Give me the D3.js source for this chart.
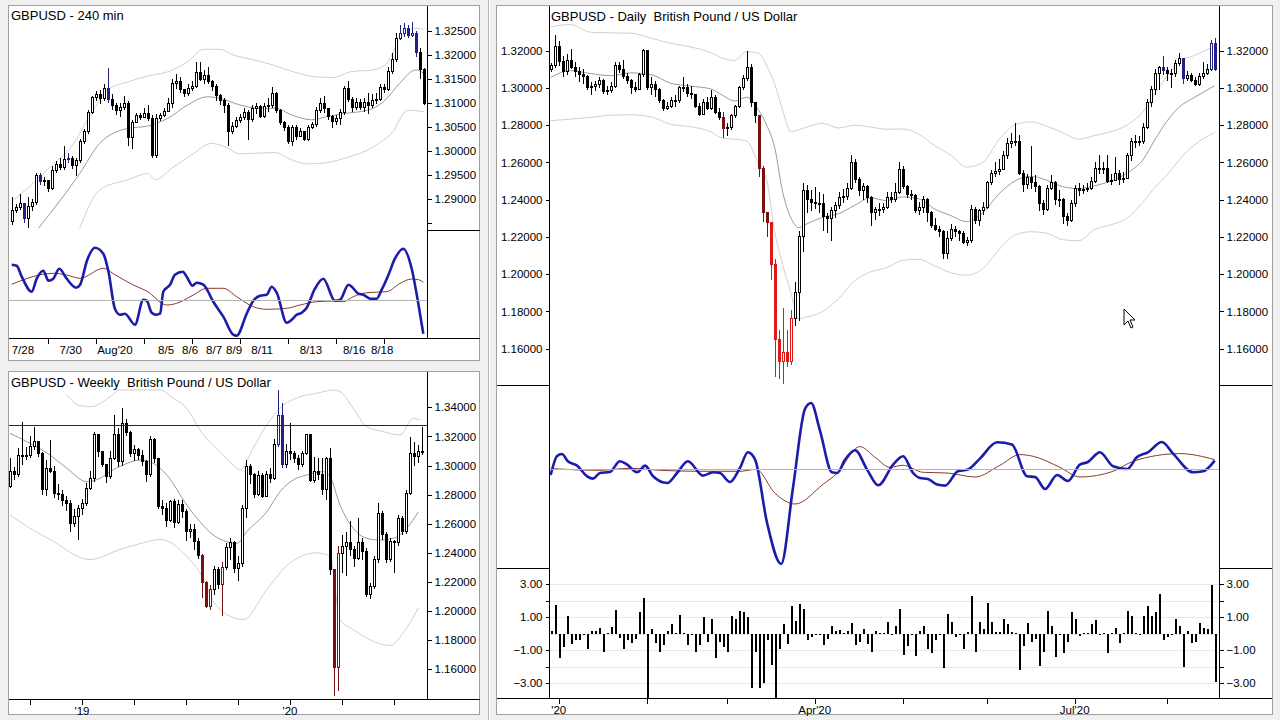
<!DOCTYPE html>
<html>
<head>
<meta charset="utf-8">
<script src="https://cdn.jsdelivr.net/npm/d3@7"></script>
<style>
  html, body { margin: 0; padding: 0; background: #f0f0f0; }
  svg { display: block; font-family: "Liberation Sans", Arial, sans-serif; }
  text { white-space: pre; }
</style>
</head>
<body>
<svg id="chart" width="1280" height="720"></svg>
<script>
// ---------- 240 min ----------
var h4Open0 = 1.2853;
var h4Close = [
  1.2877,1.2882,1.2890,1.2860,1.2885,1.2893,1.2950,1.2936,1.2938,1.2922,
  1.2960,1.2972,1.2966,1.2983,1.2985,1.2970,1.2980,1.3020,1.3040,1.3080,
  1.3112,1.3118,1.3110,1.3130,1.3107,1.3095,1.3085,1.3090,1.3100,1.3028,
  1.3060,1.3073,1.3070,1.3078,1.3068,1.2990,1.3068,1.3075,1.3083,1.3100,
  1.3140,1.3145,1.3128,1.3120,1.3130,1.3135,1.3163,1.3150,1.3158,1.3145,
  1.3135,1.3115,1.3105,1.3095,1.3040,1.3052,1.3063,1.3070,1.3080,1.3065,
  1.3088,1.3092,1.3072,1.3092,1.3095,1.3120,1.3085,1.3060,1.3050,1.3020,
  1.3050,1.3030,1.3040,1.3025,1.3048,1.3055,1.3085,1.3100,1.3088,1.3072,
  1.3062,1.3068,1.3080,1.3130,1.3108,1.3090,1.3102,1.3090,1.3102,1.3095,
  1.3105,1.3108,1.3133,1.3128,1.3165,1.3190,1.3235,1.3245,1.3255,1.3240,
  1.3245,1.3205,1.3170,1.3100
];
var h4High = [
  1.2905,1.2890,1.2910,1.2892,1.2905,1.2900,1.2955,1.2955,1.2945,1.2940,
  1.2968,1.2980,1.2985,1.3010,1.2995,1.2990,1.2985,1.3025,1.3045,1.3085,
  1.3115,1.3125,1.3128,1.3140,1.3172,1.3118,1.3100,1.3100,1.3115,1.3105,
  1.3065,1.3080,1.3080,1.3090,1.3095,1.3075,1.3078,1.3080,1.3090,1.3110,
  1.3150,1.3160,1.3155,1.3130,1.3140,1.3145,1.3185,1.3185,1.3168,1.3175,
  1.3148,1.3140,1.3118,1.3110,1.3100,1.3060,1.3070,1.3078,1.3090,1.3085,
  1.3095,1.3100,1.3095,1.3100,1.3110,1.3133,1.3122,1.3088,1.3063,1.3055,
  1.3055,1.3055,1.3048,1.3042,1.3055,1.3060,1.3092,1.3110,1.3115,1.3090,
  1.3075,1.3075,1.3088,1.3135,1.3145,1.3112,1.3110,1.3108,1.3110,1.3120,
  1.3118,1.3120,1.3140,1.3140,1.3175,1.3205,1.3245,1.3262,1.3266,1.3262,
  1.3268,1.3250,1.3215,1.3172
];
var h4Low = [
  1.2845,1.2870,1.2878,1.2850,1.2839,1.2875,1.2888,1.2930,1.2928,1.2915,
  1.2918,1.2955,1.2960,1.2960,1.2975,1.2962,1.2947,1.2975,1.3015,1.3035,
  1.3078,1.3105,1.3098,1.3105,1.3100,1.3085,1.3075,1.3070,1.3085,1.3010,
  1.3005,1.3060,1.3065,1.3068,1.3062,1.2985,1.2985,1.3062,1.3070,1.3082,
  1.3090,1.3130,1.3120,1.3112,1.3115,1.3125,1.3132,1.3145,1.3140,1.3140,
  1.3125,1.3105,1.3095,1.3080,1.3010,1.3035,1.3048,1.3058,1.3065,1.3023,
  1.3060,1.3078,1.3068,1.3068,1.3082,1.3090,1.3080,1.3055,1.3042,1.3015,
  1.3010,1.3022,1.3030,1.3020,1.3020,1.3045,1.3050,1.3080,1.3080,1.3065,
  1.3048,1.3055,1.3055,1.3075,1.3102,1.3082,1.3085,1.3085,1.3082,1.3078,
  1.3090,1.3098,1.3105,1.3120,1.3125,1.3160,1.3185,1.3232,1.3238,1.3235,
  1.3238,1.3195,1.3150,1.3095
];
var h4Up = [3, 7, 14, 24, 97, 98, 99, 100, 101];
var h4Upper = [[0,1.2895],[5,1.2930],[10,1.2970],[15,1.3010],[20,1.3080],[24,1.3127],[29,1.3144],
  [34,1.3156],[39,1.3165],[44,1.3186],[48,1.3212],[52,1.3212],[55.4,1.3200],[60.4,1.3190],
  [65.4,1.3179],[70.4,1.3165],[75.4,1.3155],[80.4,1.3153],[84.6,1.3165],[90.4,1.3169],
  [93.8,1.3183],[97.1,1.3235],[101.3,1.3256],[103,1.3253]];
var h4Mid = [[6.7,1.2839],[17,1.2953],[22,1.3016],[29,1.3047],[34,1.3052],[39,1.3068],[44,1.3096],
  [49,1.3113],[52,1.3110],[57,1.3096],[62,1.3089],[66,1.3089],[70,1.3075],[75,1.3065],
  [79,1.3072],[83,1.3078],[89,1.3085],[93,1.3103],[97,1.3141],[101,1.3169],[103,1.3162]];
var h4Lower = [[17,1.2839],[22,1.2919],[29,1.2940],[34,1.2953],[36,1.2940],[40,1.2964],[45,1.2992],
  [50,1.3016],[54,1.3006],[57,1.2994],[66,1.2997],[69,1.2985],[74,1.2973],[79,1.2976],
  [84,1.2987],[89,1.3002],[92,1.3017],[95,1.3037],[99,1.3085],[103,1.3082]];
var h4Osc = [[0,3.6],[1.25,3.5],[2.5,2.4],[5,0.9],[6.25,2.2],[7.9,3.0],[9.2,2.0],[10.4,2.2],
  [11.9,3.2],[13.75,2.2],[16.1,1.3],[17.1,1.6],[18.9,4.1],[20.8,5.3],[22.9,4.7],[24.2,2.9],
  [25.8,-0.8],[27.1,-1.4],[28.3,-1.3],[30.8,-2.4],[32.9,0.1],[33.75,0],[35,-1.2],[36.1,-1.4],
  [37.1,-1.3],[37.9,0.9],[39.6,1.6],[40.8,2.6],[42.75,2.9],[43.9,2.3],[45.2,1.5],[46.25,1.8],
  [47.9,1.6],[50.4,-0.1],[52.9,-1.6],[55.4,-3.4],[56.25,-3.5],[58.75,-1.3],[60.4,0],[62.1,0.5],
  [63.75,0.6],[65,1.4],[66.25,0.8],[68.75,-2.2],[70,-1.9],[71.25,-1.4],[72.5,-1.2],[73.75,-0.7],
  [75.8,1.2],[77.9,2.2],[80.8,0],[82.1,0.1],[84.2,1.6],[85,1.4],[86.7,0.7],[87.9,0.6],
  [89.6,0.2],[91.25,0.2],[92.5,1.1],[94.2,2.6],[95.8,4.2],[97.9,5.2],[100,3.2],[101.7,-0.4],
  [102.9,-3.3]];
var h4Signal = [[0,1.64],[10.4,2.74],[13.75,2.57],[17.1,2.24],[22.9,3.24],[25.8,2.6],[30.4,1.57],
  [33.75,0.97],[38.75,-0.43],[41.25,-0.26],[45.4,0.57],[48.75,1.24],[52.9,1.24],[56.25,0.4],
  [60.4,-0.6],[63.75,-0.86],[68.75,-0.76],[72.1,-0.43],[76.25,-0.1],[80.4,-0.03],[82.9,-0.1],
  [85.4,0.4],[88.75,0.8],[93.75,0.9],[97.1,1.74],[100,2.17],[101.7,2.1],[102.9,1.84]];
var h4Prices = [1.290, 1.295, 1.300, 1.305, 1.310, 1.315, 1.320, 1.325];
var h4TickIdx = [9, 21, 33, 45, 57, 69, 81, 93];
var h4Labels = ["7/28", "7/30", "Aug'20", "8/5", "8/6", "8/7", "8/9", "8/11", "8/13", "8/16", "8/18"];
var h4LabelIdx = [2.8, 14.75, 25.8, 38.6, 44.6, 50.6, 55.6, 62.6, 74.8, 85.6, 92.6];

// ---------- weekly ----------
var wkOpen0 = 1.2855;
var wkClose = [
  1.2958,1.2935,1.3072,1.3061,1.3072,1.3130,1.3164,1.3084,1.2832,1.2981,
  1.2960,1.2809,1.2800,1.2763,1.2740,1.2600,1.2649,1.2706,1.2740,1.2843,
  1.2912,1.3210,1.3095,1.3004,1.2924,1.3050,1.3210,1.3030,1.3290,1.3230,
  1.3084,1.3110,1.3070,1.3030,1.2935,1.3180,1.3050,1.2717,1.2706,1.2620,
  1.2750,1.2610,1.2730,1.2683,1.2546,1.2560,1.2480,1.2380,1.2194,1.2034,
  1.2148,1.2285,1.2183,1.2297,1.2440,1.2470,1.2290,1.2330,1.2706,1.2993,
  1.2940,1.2800,1.2930,1.2790,1.2940,1.2912,1.3141,1.3347,1.3004,1.3095,
  1.3084,1.3050,1.3004,1.3084,1.3210,1.2900,1.2960,1.2940,1.2832,1.3050,
  1.2286,1.1610,1.2397,1.2446,1.2470,1.2420,1.2360,1.2470,1.2411,1.2114,
  1.2171,1.2354,1.2672,1.2523,1.2354,1.2480,1.2470,1.2637,1.2546,1.2809,
  1.3084,1.3061,1.3095,1.3090
];
var wkHigh = [
  1.3050,1.2990,1.3118,1.3302,1.3130,1.3200,1.3267,1.3164,1.3090,1.3040,
  1.3176,1.3000,1.2870,1.2830,1.2790,1.2760,1.2700,1.2730,1.2770,1.2880,
  1.2960,1.3233,1.3215,1.3100,1.3010,1.3100,1.3347,1.3256,1.3393,1.3320,
  1.3240,1.3140,1.3120,1.3110,1.3040,1.3200,1.3190,1.3030,1.2760,1.2740,
  1.2760,1.2770,1.2760,1.2760,1.2700,1.2600,1.2600,1.2500,1.2390,1.2210,
  1.2180,1.2310,1.2300,1.2340,1.2470,1.2500,1.2480,1.2380,1.2730,1.3040,
  1.3010,1.2950,1.2960,1.2950,1.2960,1.2980,1.3180,1.3519,1.3427,1.3150,
  1.3290,1.3100,1.3070,1.3100,1.3215,1.3210,1.3060,1.3050,1.3050,1.3060,
  1.3120,1.2290,1.2450,1.2520,1.2540,1.2620,1.2450,1.2640,1.2500,1.2430,
  1.2190,1.2380,1.2740,1.2690,1.2540,1.2500,1.2490,1.2660,1.2650,1.2830,
  1.3198,1.3160,1.3140,1.3267
];
var wkLow = [
  1.2843,1.2900,1.2920,1.3004,1.3040,1.3050,1.3110,1.3061,1.2800,1.2790,
  1.2950,1.2780,1.2760,1.2720,1.2690,1.2540,1.2580,1.2490,1.2660,1.2720,
  1.2830,1.2890,1.3060,1.2990,1.2880,1.2910,1.3040,1.2990,1.3000,1.3200,
  1.3060,1.3030,1.3040,1.3000,1.2890,1.2920,1.3020,1.2700,1.2660,1.2580,
  1.2610,1.2570,1.2600,1.2640,1.2480,1.2500,1.2420,1.2360,1.2090,1.2020,
  1.2010,1.2110,1.2150,1.1965,1.2280,1.2350,1.2260,1.2210,1.2300,1.2640,
  1.2870,1.2780,1.2790,1.2780,1.2800,1.2880,1.2900,1.3130,1.2980,1.2980,
  1.3040,1.3020,1.2970,1.2990,1.3070,1.2889,1.2880,1.2900,1.2800,1.2760,
  1.2250,1.1415,1.1449,1.2260,1.2240,1.2380,1.2300,1.2350,1.2350,1.2100,
  1.2080,1.2150,1.2330,1.2490,1.2330,1.2340,1.2260,1.2450,1.2520,1.2530,
  1.2800,1.3000,1.3020,1.3070
];
var wkUp = [67, 68];
var wkDown = [48, 49, 50, 53, 81, 82];
var wkUpper = [[14.2,1.3485],[17.5,1.3411],[20.4,1.3405],[25,1.3473],[27.5,1.3519],[37.5,1.3519],
  [40.8,1.3462],[44.2,1.3393],[47.5,1.3244],[52.5,1.3095],[55.8,1.3004],[57.5,1.2969],
  [60.8,1.3118],[64.2,1.3279],[67.5,1.3393],[72.5,1.3473],[76.7,1.3496],[80.8,1.3519],
  [82.5,1.3508],[85.8,1.3393],[89.2,1.3267],[93.3,1.3233],[97.5,1.3210],[100.8,1.3324],[102.5,1.3313]];
var wkMid = [[0,1.3221],[4.2,1.3164],[10,1.3072],[14.2,1.2981],[19.2,1.2889],[22.5,1.2912],[25,1.2958],
  [28.3,1.3004],[32.5,1.3038],[35.8,1.3015],[39.2,1.2935],[44.2,1.2729],[47.5,1.2614],
  [50.8,1.2523],[54.2,1.2477],[56.7,1.2465],[59.2,1.2546],[64.2,1.2683],[67.5,1.2820],
  [70.8,1.2901],[74.2,1.2935],[78.3,1.2958],[80,1.2924],[82.5,1.2729],[85.8,1.2569],
  [89.2,1.2500],[92.5,1.2488],[95.8,1.2500],[99.2,1.2569],[102.1,1.2683]];
var wkLower = [[0,1.2660],[5,1.2569],[10,1.2492],[20,1.2354],[27.5,1.2423],[33.3,1.2469],[37.5,1.2492],
  [44.2,1.2377],[47.5,1.2263],[51.7,1.2034],[58.3,1.1942],[64.2,1.2148],[70,1.2331],
  [76.7,1.2400],[80,1.2377],[82.5,1.1942],[85.8,1.1873],[90.8,1.1793],[95,1.1763],
  [98.3,1.1850],[102.1,1.2022]];
var wkLevel = 1.3275;
var wkPrices = [1.16, 1.18, 1.20, 1.22, 1.24, 1.26, 1.28, 1.30, 1.32, 1.34];
var wkTickIdx = [5, 18, 31, 44, 57, 70, 83, 96];
var wkLabels = ["'19", "'20"];
var wkLabelIdx = [18, 70];

// ---------- daily ----------
var dOpen0 = 1.3100;
var dClose = [
  1.3120,1.3220,1.3140,1.3090,1.3150,1.3110,1.3090,1.3070,1.3060,1.3000,
  1.3010,1.3020,1.3040,1.2980,1.2985,1.3010,1.3120,1.3100,1.3060,1.3040,
  1.3000,1.2990,1.3070,1.3200,1.3000,1.3020,1.2990,1.2930,1.2890,1.2900,
  1.2930,1.2933,1.3000,1.3003,1.2970,1.2965,1.2900,1.2860,1.2920,1.2890,
  1.2950,1.2870,1.2840,1.2780,1.2790,1.2850,1.2900,1.3000,1.3050,1.3110,
  1.2920,1.2850,1.2570,1.2330,1.2280,1.2050,1.1650,1.1530,1.1580,1.1530,
  1.1760,1.1900,1.2200,1.2450,1.2400,1.2385,1.2380,1.2382,1.2310,1.2300,
  1.2340,1.2370,1.2410,1.2415,1.2460,1.2600,1.2510,1.2450,1.2470,1.2410,
  1.2330,1.2345,1.2350,1.2360,1.2410,1.2400,1.2440,1.2560,1.2470,1.2430,
  1.2420,1.2340,1.2360,1.2400,1.2330,1.2260,1.2240,1.2230,1.2110,1.2190,
  1.2240,1.2230,1.2220,1.2170,1.2180,1.2350,1.2290,1.2340,1.2360,1.2490,
  1.2540,1.2550,1.2560,1.2640,1.2700,1.2710,1.2715,1.2540,1.2480,1.2520,
  1.2490,1.2470,1.2380,1.2350,1.2460,1.2490,1.2400,1.2400,1.2310,1.2290,
  1.2380,1.2460,1.2450,1.2455,1.2460,1.2500,1.2570,1.2560,1.2565,1.2500,
  1.2505,1.2540,1.2510,1.2515,1.2640,1.2710,1.2715,1.2710,1.2790,1.2920,
  1.2990,1.3080,1.3110,1.3095,1.3080,1.3075,1.3130,1.3160,1.3050,1.3065,
  1.3040,1.3020,1.3060,1.3080,1.3100,1.3240,1.3100
];
var dHigh = [
  1.3135,1.3285,1.3250,1.3170,1.3180,1.3210,1.3140,1.3110,1.3100,1.3070,
  1.3030,1.3040,1.3060,1.3050,1.3010,1.3030,1.3140,1.3140,1.3150,1.3080,
  1.3050,1.3030,1.3080,1.3210,1.3205,1.3060,1.3040,1.3000,1.2940,1.2925,
  1.2950,1.2960,1.3010,1.3060,1.3020,1.3010,1.2970,1.2920,1.2940,1.2950,
  1.2990,1.2960,1.2890,1.2870,1.2810,1.2860,1.2910,1.3010,1.3070,1.3200,
  1.3130,1.2920,1.2850,1.2580,1.2320,1.2280,1.2080,1.1700,1.1820,1.1700,
  1.1810,1.1960,1.2230,1.2490,1.2480,1.2450,1.2470,1.2440,1.2430,1.2330,
  1.2360,1.2390,1.2440,1.2460,1.2490,1.2640,1.2620,1.2520,1.2490,1.2480,
  1.2420,1.2360,1.2380,1.2380,1.2440,1.2440,1.2490,1.2600,1.2580,1.2480,
  1.2450,1.2430,1.2390,1.2420,1.2410,1.2340,1.2300,1.2260,1.2240,1.2230,
  1.2270,1.2260,1.2240,1.2230,1.2200,1.2370,1.2360,1.2350,1.2390,1.2500,
  1.2560,1.2600,1.2620,1.2660,1.2730,1.2760,1.2810,1.2750,1.2560,1.2540,
  1.2690,1.2530,1.2480,1.2400,1.2480,1.2530,1.2500,1.2450,1.2410,1.2330,
  1.2400,1.2480,1.2490,1.2480,1.2490,1.2520,1.2600,1.2640,1.2600,1.2640,
  1.2540,1.2630,1.2560,1.2550,1.2650,1.2730,1.2750,1.2740,1.2810,1.2940,
  1.3010,1.3100,1.3120,1.3170,1.3110,1.3100,1.3150,1.3190,1.3160,1.3090,
  1.3080,1.3060,1.3080,1.3140,1.3130,1.3260,1.3270
];
var dLow = [
  1.3085,1.3105,1.3120,1.3060,1.3070,1.3100,1.3060,1.3030,1.3020,1.2990,
  1.2960,1.2985,1.3000,1.2965,1.2960,1.2975,1.3000,1.3080,1.3050,1.3020,
  1.2970,1.2980,1.2990,1.3060,1.2990,1.2960,1.2950,1.2920,1.2875,1.2880,
  1.2890,1.2900,1.2920,1.2980,1.2950,1.2940,1.2890,1.2850,1.2860,1.2880,
  1.2880,1.2860,1.2830,1.2730,1.2740,1.2775,1.2840,1.2890,1.2990,1.3040,
  1.2900,1.2810,1.2520,1.2280,1.2200,1.1970,1.1450,1.1440,1.1410,1.1500,
  1.1510,1.1720,1.1750,1.2120,1.2330,1.2340,1.2350,1.2330,1.2230,1.2220,
  1.2180,1.2300,1.2350,1.2380,1.2400,1.2450,1.2490,1.2420,1.2400,1.2380,
  1.2260,1.2290,1.2310,1.2330,1.2350,1.2380,1.2390,1.2430,1.2460,1.2410,
  1.2400,1.2330,1.2320,1.2330,1.2280,1.2250,1.2230,1.2200,1.2080,1.2080,
  1.2180,1.2200,1.2180,1.2160,1.2150,1.2170,1.2270,1.2260,1.2320,1.2350,
  1.2480,1.2520,1.2530,1.2570,1.2620,1.2680,1.2690,1.2530,1.2440,1.2460,
  1.2460,1.2440,1.2340,1.2320,1.2340,1.2450,1.2370,1.2360,1.2270,1.2260,
  1.2280,1.2360,1.2420,1.2430,1.2440,1.2450,1.2490,1.2540,1.2540,1.2490,
  1.2480,1.2500,1.2480,1.2490,1.2510,1.2610,1.2680,1.2690,1.2700,1.2780,
  1.2900,1.2960,1.2990,1.3070,1.3040,1.3000,1.3060,1.3120,1.3020,1.3040,
  1.3030,1.3010,1.3010,1.3050,1.3070,1.3090,1.3090
];
var dUp = [153, 158, 165, 166];
var dDownDark = [43, 52, 53, 54];
var dDownBright = [55, 56, 57, 58, 59, 60];
var dBandIdx = [0,5,10,15,20,25,30,35,40,43,46,49,52,54,56,58,60,62,64,68,72,76,80,84,88,92,96,
  100,104,108,112,116,120,124,128,132,136,140,144,148,151,154,157,161,166];
var dUpper = [1.3329,1.3340,1.3299,1.3296,1.3294,1.3268,1.3240,1.3220,1.3190,1.3159,1.3148,1.3195,
  1.3185,1.3120,1.3020,1.2880,1.2765,1.2775,1.2790,1.2810,1.2785,1.2800,1.2790,1.2778,1.2780,
  1.2752,1.2690,1.2640,1.2575,1.2600,1.2720,1.2802,1.2818,1.2795,1.2760,1.2725,1.2745,1.2765,
  1.2800,1.2870,1.2970,1.3060,1.3140,1.3175,1.3225];
var dMid = [1.3057,1.3093,1.3077,1.3066,1.3081,1.3072,1.3025,1.3010,1.2995,1.2960,1.2930,1.2950,
  1.2880,1.2800,1.2680,1.2440,1.2305,1.2250,1.2270,1.2305,1.2325,1.2370,1.2410,1.2395,1.2415,
  1.2405,1.2350,1.2315,1.2282,1.2330,1.2430,1.2500,1.2526,1.2505,1.2470,1.2460,1.2475,1.2500,
  1.2542,1.2613,1.2720,1.2820,1.2895,1.2950,1.3012];
var dLower = [1.2824,1.2833,1.2842,1.2854,1.2856,1.2845,1.2805,1.2792,1.2765,1.2730,1.2725,1.2715,
  1.2590,1.2506,1.2230,1.2050,1.1905,1.1760,1.1770,1.1800,1.1870,1.1965,1.2013,1.2035,1.2075,
  1.2080,1.2045,1.2008,1.1995,1.2030,1.2130,1.2210,1.2228,1.2220,1.2185,1.2180,1.2240,1.2265,
  1.2300,1.2385,1.2465,1.2530,1.2610,1.2695,1.2760];
var dOsc = [[0,-0.57],[1.6,1.33],[2.8,1.53],[4.3,0.8],[6.6,0.37],[9.1,-0.7],[10.6,-0.93],[12.3,-0.37],
  [14.8,-0.27],[17.3,0.8],[19.1,0.47],[21.6,-0.3],[23.6,0.37],[25.6,-0.7],[29.1,-1.37],[31.6,-0.37],
  [34.3,0.8],[38.1,-0.63],[40.6,-0.3],[42.3,-0.37],[44.8,-1.27],[47.3,0.13],[49.3,1.7],[51.1,0.97],
  [54.1,-5.37],[57.6,-9.47],[60.6,-1.77],[63.6,6.07],[65.1,6.63],[67.3,3.9],[70.3,-0.3],[71.6,-0.37],
  [73.6,0.97],[76.1,1.9],[79.1,-0.03],[81.9,-1.6],[85.6,0.47],[88.1,1.3],[90.6,-0.37],[92.3,-0.87],
  [94.3,-0.97],[96.6,-1.53],[98.6,-1.63],[101.8,-0.2],[104.3,-0.03],[107.3,1.07],[111.6,2.7],
  [115.3,2.47],[119.1,-0.7],[121.1,-0.77],[123.6,-1.97],[126.6,-0.57],[129.3,-1.17],[132.3,0.47],
  [134.3,0.73],[137.3,1.7],[140.6,0.3],[144.1,0.03],[146.6,1.23],[149.3,1.7],[152.8,2.73],
  [155.6,1.57],[160.6,-0.3],[163.1,-0.2],[166,0.87]];
var dSignal = [[0,0.07],[12.3,-0.1],[19.8,0.1],[27.3,-0.1],[37.3,-0.2],[47.3,-0.2],[51.3,0.0],
  [56.1,-2.4],[61.1,-3.47],[68.1,-1.5],[71.6,-0.4],[77.3,2.27],[81.1,1.2],[84.8,0.2],[88.1,0.4],
  [93.1,-0.3],[99.1,-0.37],[106.1,-0.77],[112.3,0.4],[117.3,1.47],[120.6,1.3],[127.3,0.2],
  [132.3,-0.77],[140.6,-0.2],[145.6,0.8],[157.3,1.57],[166,0.97]];
var dHist = [
  0.2,1.75,-1.45,-0.8,1.1,-0.6,-0.4,-0.4,-0.1,-0.9,
  0.2,0.2,0.35,-1.1,0.05,0.4,1.45,-0.25,-0.9,-0.35,
  -0.55,-0.3,1.3,2.2,-3.9,0.3,-0.55,-1.1,-0.7,0.2,
  0.6,0.05,1.15,0.05,-0.65,-0.1,-1.1,-0.65,1.0,-0.5,
  0.9,-1.45,-0.5,-0.8,-1.1,1.1,0.9,1.4,1.3,1.0,
  -3.3,-1.1,-3.3,-3.0,-0.4,-1.9,-3.9,-0.9,0.6,-0.6,
  1.7,0.8,1.8,1.5,-0.4,-0.2,-0.1,0,-0.7,-0.3,
  0.45,0.2,0.25,0.05,0.2,0.65,-0.7,-0.5,0.3,-0.6,
  -1.1,0.2,0.05,0.05,0.7,-0.1,0.45,1.5,-1.3,-0.75,
  -0.1,-1.35,0.2,0.45,-0.95,-1.15,-0.35,-0.1,-2.05,1.2,
  0.7,-0.2,-0.1,-0.9,0.1,2.3,-1.1,0.7,0.3,1.85,
  0.7,0.1,0.1,0.9,0.6,0.1,0.05,-2.2,-0.75,0.65,
  -0.5,-0.3,-1.95,-1.1,1.4,0.5,-1.4,0,-1.15,-0.5,
  1.35,0.9,-0.15,0.05,0.05,0.6,0.85,-0.1,0.05,-1.15,
  0.05,0.35,-0.55,0.05,1.4,1.05,0.05,-0.1,1.05,1.7,
  1.05,1.3,2.4,-0.4,-0.2,-0.1,0.9,0.5,-2.0,0.2,
  -0.55,-0.5,0.65,0.35,0.3,2.95,-2.9
];
var dPrices = [1.16, 1.18, 1.20, 1.22, 1.24, 1.26, 1.28, 1.30, 1.32];
var dHistTicks = [3, 2, 1, -1, -2, -3];
var dHistLabels = [3, 1, -1, -3];
var dTickIdx = [2, 24, 44, 66, 88, 109, 131, 154];
var dLabels = ["'20", "Apr'20", "Jul'20"];
var dLabelIdx = [2, 66, 131];

// ---------- drawing ----------
var svg = d3.select("#chart");
var defs = svg.append("defs");
var navy = "#202088";
var fmt5 = d3.format(".5f");
var fmt2 = d3.format(".2f");

function clip(id, x, y, w, h) {
  defs.append("clipPath").attr("id", id)
    .append("rect").attr("x", x).attr("y", y).attr("width", w).attr("height", h);
  return "url(#" + id + ")";
}

function frame(x, y, w, h) {
  svg.append("rect").attr("x", x).attr("y", y).attr("width", w).attr("height", h)
    .attr("fill", "#fff").attr("stroke", "#a0a0a0");
}

function hline(x1, x2, y, color) {
  svg.append("line").attr("x1", x1).attr("x2", x2).attr("y1", y).attr("y2", y)
    .attr("stroke", color || "#000").attr("shape-rendering", "crispEdges");
}

function vline(x, y1, y2, color) {
  svg.append("line").attr("x1", x).attr("x2", x).attr("y1", y1).attr("y2", y2)
    .attr("stroke", color || "#000").attr("shape-rendering", "crispEdges");
}

function candles(g, x, y, d) {
  var rows = d.close.map(function (c, i) {
    var o = i === 0 ? d.open0 : d.close[i - 1];
    var col = "#000";
    if (d.up && d.up.indexOf(i) >= 0) col = navy;
    if (d.downDark && d.downDark.indexOf(i) >= 0) col = "#7a1010";
    if (d.downBright && d.downBright.indexOf(i) >= 0) col = "#e01818";
    return { i: i, o: o, c: c, h: d.high[i], l: d.low[i], col: col };
  });
  var cg = g.selectAll("g.c").data(rows).enter().append("g").attr("class", "c")
    .attr("shape-rendering", "crispEdges");
  cg.append("line")
    .attr("x1", function (r) { return Math.round(x(r.i)) + 0.5; })
    .attr("x2", function (r) { return Math.round(x(r.i)) + 0.5; })
    .attr("y1", function (r) { return y(r.h); })
    .attr("y2", function (r) { return y(r.l); })
    .attr("stroke", function (r) { return r.col; });
  cg.append("rect")
    .attr("x", function (r) { return Math.round(x(r.i)) - 0.5; })
    .attr("y", function (r) { return y(Math.max(r.o, r.c)); })
    .attr("width", 2)
    .attr("height", function (r) { return Math.max(1, Math.abs(y(r.o) - y(r.c))); })
    .attr("fill", function (r) { return r.c >= r.o ? "#fff" : r.col; })
    .attr("stroke", function (r) { return r.col; });
}

function curve(g, pts, x, y, color, width) {
  g.append("path").datum(pts)
    .attr("d", d3.line().x(function (p) { return x(p[0]); }).y(function (p) { return y(p[1]); })
      .curve(d3.curveMonotoneX))
    .attr("fill", "none").attr("stroke", color).attr("stroke-width", width)
    .attr("stroke-linejoin", "round");
}

function priceAxis(g, y, ticks, side, x0, fmt) {
  var ax = (side === "right" ? d3.axisRight(y) : d3.axisLeft(y))
    .tickValues(ticks).tickFormat(fmt).tickSize(4).tickPadding(3);
  var a = g.append("g").attr("transform", "translate(" + x0 + ",0)").call(ax);
  a.select(".domain").remove();
  a.selectAll("text").attr("font-size", 11.5).attr("fill", "#000")
    .attr("font-family", "\"Liberation Sans\", Arial, sans-serif");
  a.selectAll("line").attr("stroke", "#000").attr("shape-rendering", "crispEdges");
  return a;
}

function timeAxis(g, x, ticks, labels, labelIdx, y0, x1, x2) {
  hline(x1, x2, y0);
  g.selectAll("line.tk").data(ticks).enter().append("line").attr("class", "tk")
    .attr("x1", function (t) { return Math.round(x(t)) + 0.5; })
    .attr("x2", function (t) { return Math.round(x(t)) + 0.5; })
    .attr("y1", y0).attr("y2", y0 + 5).attr("stroke", "#000")
    .attr("shape-rendering", "crispEdges");
  g.selectAll("text.tl").data(labels).enter().append("text").attr("class", "tl")
    .attr("x", function (t, i) { return x(labelIdx[i]); })
    .attr("y", y0 + 15).attr("text-anchor", "middle").attr("font-size", 11.5)
    .text(function (t) { return t; });
}

// window backgrounds
svg.append("rect").attr("x", 0).attr("y", 0).attr("width", 1280).attr("height", 720).attr("fill", "#f0f0f0");
vline(488, 0, 720, "#b8b8b8");
vline(489, 0, 720, "#ffffff");

// ===== top-left: 240 min =====
(function () {
  frame(8.5, 5.5, 471, 355);
  var g = svg.append("g");
  var x = d3.scaleLinear().domain([0, h4Close.length - 1]).range([11.7, 423.7]);
  var y = d3.scaleLinear().domain([1.285, 1.325]).range([223, 31]);
  var yo = d3.scaleLinear().domain([-5, 5]).range([350.7, 250.7]);
  var pc = g.append("g").attr("clip-path", clip("c240", 9, 6, 418, 224));
  curve(pc, h4Upper, x, y, "#d0d0d0", 1);
  curve(pc, h4Lower, x, y, "#d0d0d0", 1);
  curve(pc, h4Mid, x, y, "#9a9a9a", 1);
  candles(pc, x, y, { open0: h4Open0, close: h4Close, high: h4High, low: h4Low, up: h4Up });
  var oc = g.append("g").attr("clip-path", clip("c240o", 9, 231, 418, 107));
  hline(9, 427, 300.5, "#b4b4b4");
  curve(oc, h4Signal, x, yo, "#8b3a2a", 1);
  curve(oc, h4Osc, x, yo, "#1c1caa", 2.6);
  vline(427.5, 6, 338);
  hline(427, 480, 230.5);
  priceAxis(g, y, h4Prices.concat([1.285]), "right", 427.5, function (v) { return v === 1.285 ? "" : fmt5(v); });
  timeAxis(g, x, h4TickIdx, h4Labels, h4LabelIdx, 338.5, 9, 480);
  g.append("text").attr("x", 11).attr("y", 20).attr("font-size", 13).text("GBPUSD - 240 min");
})();

// ===== bottom-left: weekly =====
(function () {
  frame(8.5, 371.5, 471, 343);
  var g = svg.append("g");
  var x = d3.scaleLinear().domain([0, wkClose.length - 1]).range([10, 422]);
  var y = d3.scaleLinear().domain([1.16, 1.34]).range([669.3, 407.3]);
  var pc = g.append("g").attr("clip-path", clip("cwk", 9, 372, 418, 327));
  curve(pc, wkUpper, x, y, "#d0d0d0", 1);
  curve(pc, wkLower, x, y, "#d0d0d0", 1);
  curve(pc, wkMid, x, y, "#9a9a9a", 1);
  hline(9, 427, Math.round(y(wkLevel)) + 0.5, "#1818a0");
  candles(pc, x, y, { open0: wkOpen0, close: wkClose, high: wkHigh, low: wkLow,
    up: wkUp, downDark: wkDown });
  vline(427.5, 372, 699);
  priceAxis(g, y, wkPrices, "right", 427.5, fmt5);
  timeAxis(g, x, wkTickIdx, wkLabels, wkLabelIdx, 699.5, 9, 480);
  g.append("text").attr("x", 11).attr("y", 387).attr("font-size", 13)
    .text("GBPUSD - Weekly  British Pound / US Dollar");
})();

// ===== right: daily =====
(function () {
  frame(496.5, 5.5, 776, 709);
  var g = svg.append("g");
  var x = d3.scaleLinear().domain([0, dClose.length - 1]).range([550.7, 1214.7]);
  var y = d3.scaleLinear().domain([1.16, 1.32]).range([348.7, 50.7]);
  var yo = d3.scaleLinear().domain([-10, 10]).range([569.3, 369.3]);
  var yh = d3.scaleLinear().domain([-3, 3]).range([683.3, 584.3]);

  var pc = g.append("g").attr("clip-path", clip("cd", 550, 6, 669, 379));
  var bands = dBandIdx.map(function (i, k) { return [i, dUpper[k], dMid[k], dLower[k]]; });
  curve(pc, bands.map(function (b) { return [b[0], b[1]]; }), x, y, "#d0d0d0", 1);
  curve(pc, bands.map(function (b) { return [b[0], b[3]]; }), x, y, "#d0d0d0", 1);
  curve(pc, bands.map(function (b) { return [b[0], b[2]]; }), x, y, "#9a9a9a", 1);
  candles(pc, x, y, { open0: dOpen0, close: dClose, high: dHigh, low: dLow,
    up: dUp, downDark: dDownDark, downBright: dDownBright });

  var oc = g.append("g").attr("clip-path", clip("cdo", 550, 386, 669, 182));
  hline(550, 1219, 469.5, "#b4b4b4");
  curve(oc, dSignal, x, yo, "#8b3a2a", 1);
  curve(oc, dOsc, x, yo, "#1c1caa", 2.6);

  var hc = g.append("g").attr("clip-path", clip("cdh", 550, 569, 669, 129));
  hc.selectAll("line.gr").data(dHistTicks.concat([0])).enter().append("line").attr("class", "gr")
    .attr("x1", 550).attr("x2", 1219)
    .attr("y1", function (v) { return Math.round(yh(v)) + 0.5; })
    .attr("y2", function (v) { return Math.round(yh(v)) + 0.5; })
    .attr("stroke", "#e8e8e8");
  hc.selectAll("rect.hb").data(dHist).enter().append("rect").attr("class", "hb")
    .attr("x", function (v, i) { return Math.round(x(i)) - 0.5; })
    .attr("width", 2)
    .attr("y", function (v) { return Math.min(yh(v), yh(0)); })
    .attr("height", function (v) { return Math.max(1, Math.abs(yh(v) - yh(0))); })
    .attr("fill", "#000").attr("shape-rendering", "crispEdges");

  vline(549.5, 6, 698);
  vline(1219.5, 6, 698);
  hline(497, 549, 385.5); hline(1219, 1272, 385.5);
  hline(497, 549, 568.5); hline(1219, 1272, 568.5);
  priceAxis(g, y, dPrices, "left", 549.5, fmt5);
  priceAxis(g, y, dPrices, "right", 1219.5, fmt5);
  var hl = function (v) { return dHistLabels.indexOf(v) >= 0 ? fmt2(v) : ""; };
  priceAxis(g, yh, dHistTicks, "left", 549.5, hl);
  priceAxis(g, yh, dHistTicks, "right", 1219.5, hl);
  timeAxis(g, x, dTickIdx, dLabels, dLabelIdx, 698.5, 497, 1272);
  g.append("text").attr("x", 551).attr("y", 21).attr("font-size", 13)
    .text("GBPUSD - Daily  British Pound / US Dollar");

  // mouse pointer seen in the screenshot
  g.append("path").attr("transform", "translate(1124,309)")
    .attr("d", "M0,0 L0,16 L4,12 L7,19 L9,18 L6,11 L11,11 Z")
    .attr("fill", "#fff").attr("stroke", "#000").attr("stroke-width", 1);
})();
</script>
</body>
</html>
